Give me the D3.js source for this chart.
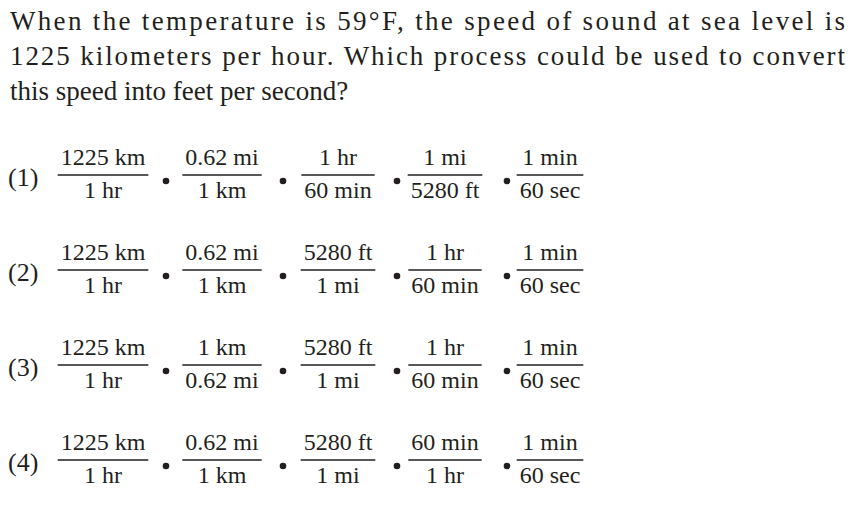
<!DOCTYPE html>
<html><head><meta charset="utf-8">
<script src="https://cdn.jsdelivr.net/npm/d3@7"></script>
<style>body{margin:0;background:#fff}</style>
</head><body><svg id="c" width="868" height="524"></svg>
<script>
const questionLines = [
  "When the temperature is 59°F, the speed of sound at sea level is",
  "1225 kilometers per hour. Which process could be used to convert",
  "this speed into feet per second?"
];
const choiceLabels = ["(1)", "(2)", "(3)", "(4)"];
const numerators = [
  ["1225 km", "0.62 mi", "1 hr", "1 mi", "1 min"],
  ["1225 km", "0.62 mi", "5280 ft", "1 hr", "1 min"],
  ["1225 km", "1 km", "5280 ft", "1 hr", "1 min"],
  ["1225 km", "0.62 mi", "5280 ft", "60 min", "1 min"]
];
const denominators = [
  ["1 hr", "1 km", "60 min", "5280 ft", "60 sec"],
  ["1 hr", "1 km", "1 mi", "60 min", "60 sec"],
  ["1 hr", "0.62 mi", "1 mi", "60 min", "60 sec"],
  ["1 hr", "1 km", "1 mi", "1 hr", "60 sec"]
];

const svg = d3.select("#c");
const font = "'Liberation Serif', 'DejaVu Serif', serif";
const y = d3.scaleBand().domain(d3.range(4)).range([145, 525]);
const centers = [103, 222, 338, 445, 550];
const dots = [166, 283, 397, 507];

svg.selectAll("text.q").data(questionLines).enter().append("text")
  .attr("class", "q")
  .attr("x", 10).attr("y", (d, i) => 30 + i * 35)
  .attr("font-family", font).attr("font-size", 27).attr("fill", "#231f20")
  .each(function(d, i) { if (i < 2) d3.select(this).attr("textLength", 835).attr("lengthAdjust", "spacing"); })
  .text(d => d);

choiceLabels.forEach((lab, r) => {
  const top = y(r);
  const g = svg.append("g").attr("transform", `translate(0,${top})`);
  g.append("text").attr("x", 8).attr("y", 41).attr("font-family", font)
    .attr("font-size", 26).attr("fill", "#231f20").text(lab);
  numerators[r].forEach((num, c) => {
    const cx = centers[c];
    const t1 = g.append("text").attr("x", cx).attr("y", 20).attr("text-anchor", "middle")
      .attr("font-family", font).attr("font-size", 24).attr("fill", "#231f20").text(num);
    const t2 = g.append("text").attr("x", cx).attr("y", 53).attr("text-anchor", "middle")
      .attr("font-family", font).attr("font-size", 24).attr("fill", "#231f20").text(denominators[r][c]);
    const w = Math.max(t1.node().getComputedTextLength(), t2.node().getComputedTextLength()) + 6;
    g.append("line").attr("x1", cx - w / 2).attr("x2", cx + w / 2).attr("y1", 30).attr("y2", 30)
      .attr("stroke", "#231f20").attr("stroke-width", 1.3);
    if (c < 4) {
      g.append("circle").attr("cx", dots[c]).attr("cy", 36)
        .attr("r", 3.3).attr("fill", "#231f20");
    }
  });
});
</script></body></html>
